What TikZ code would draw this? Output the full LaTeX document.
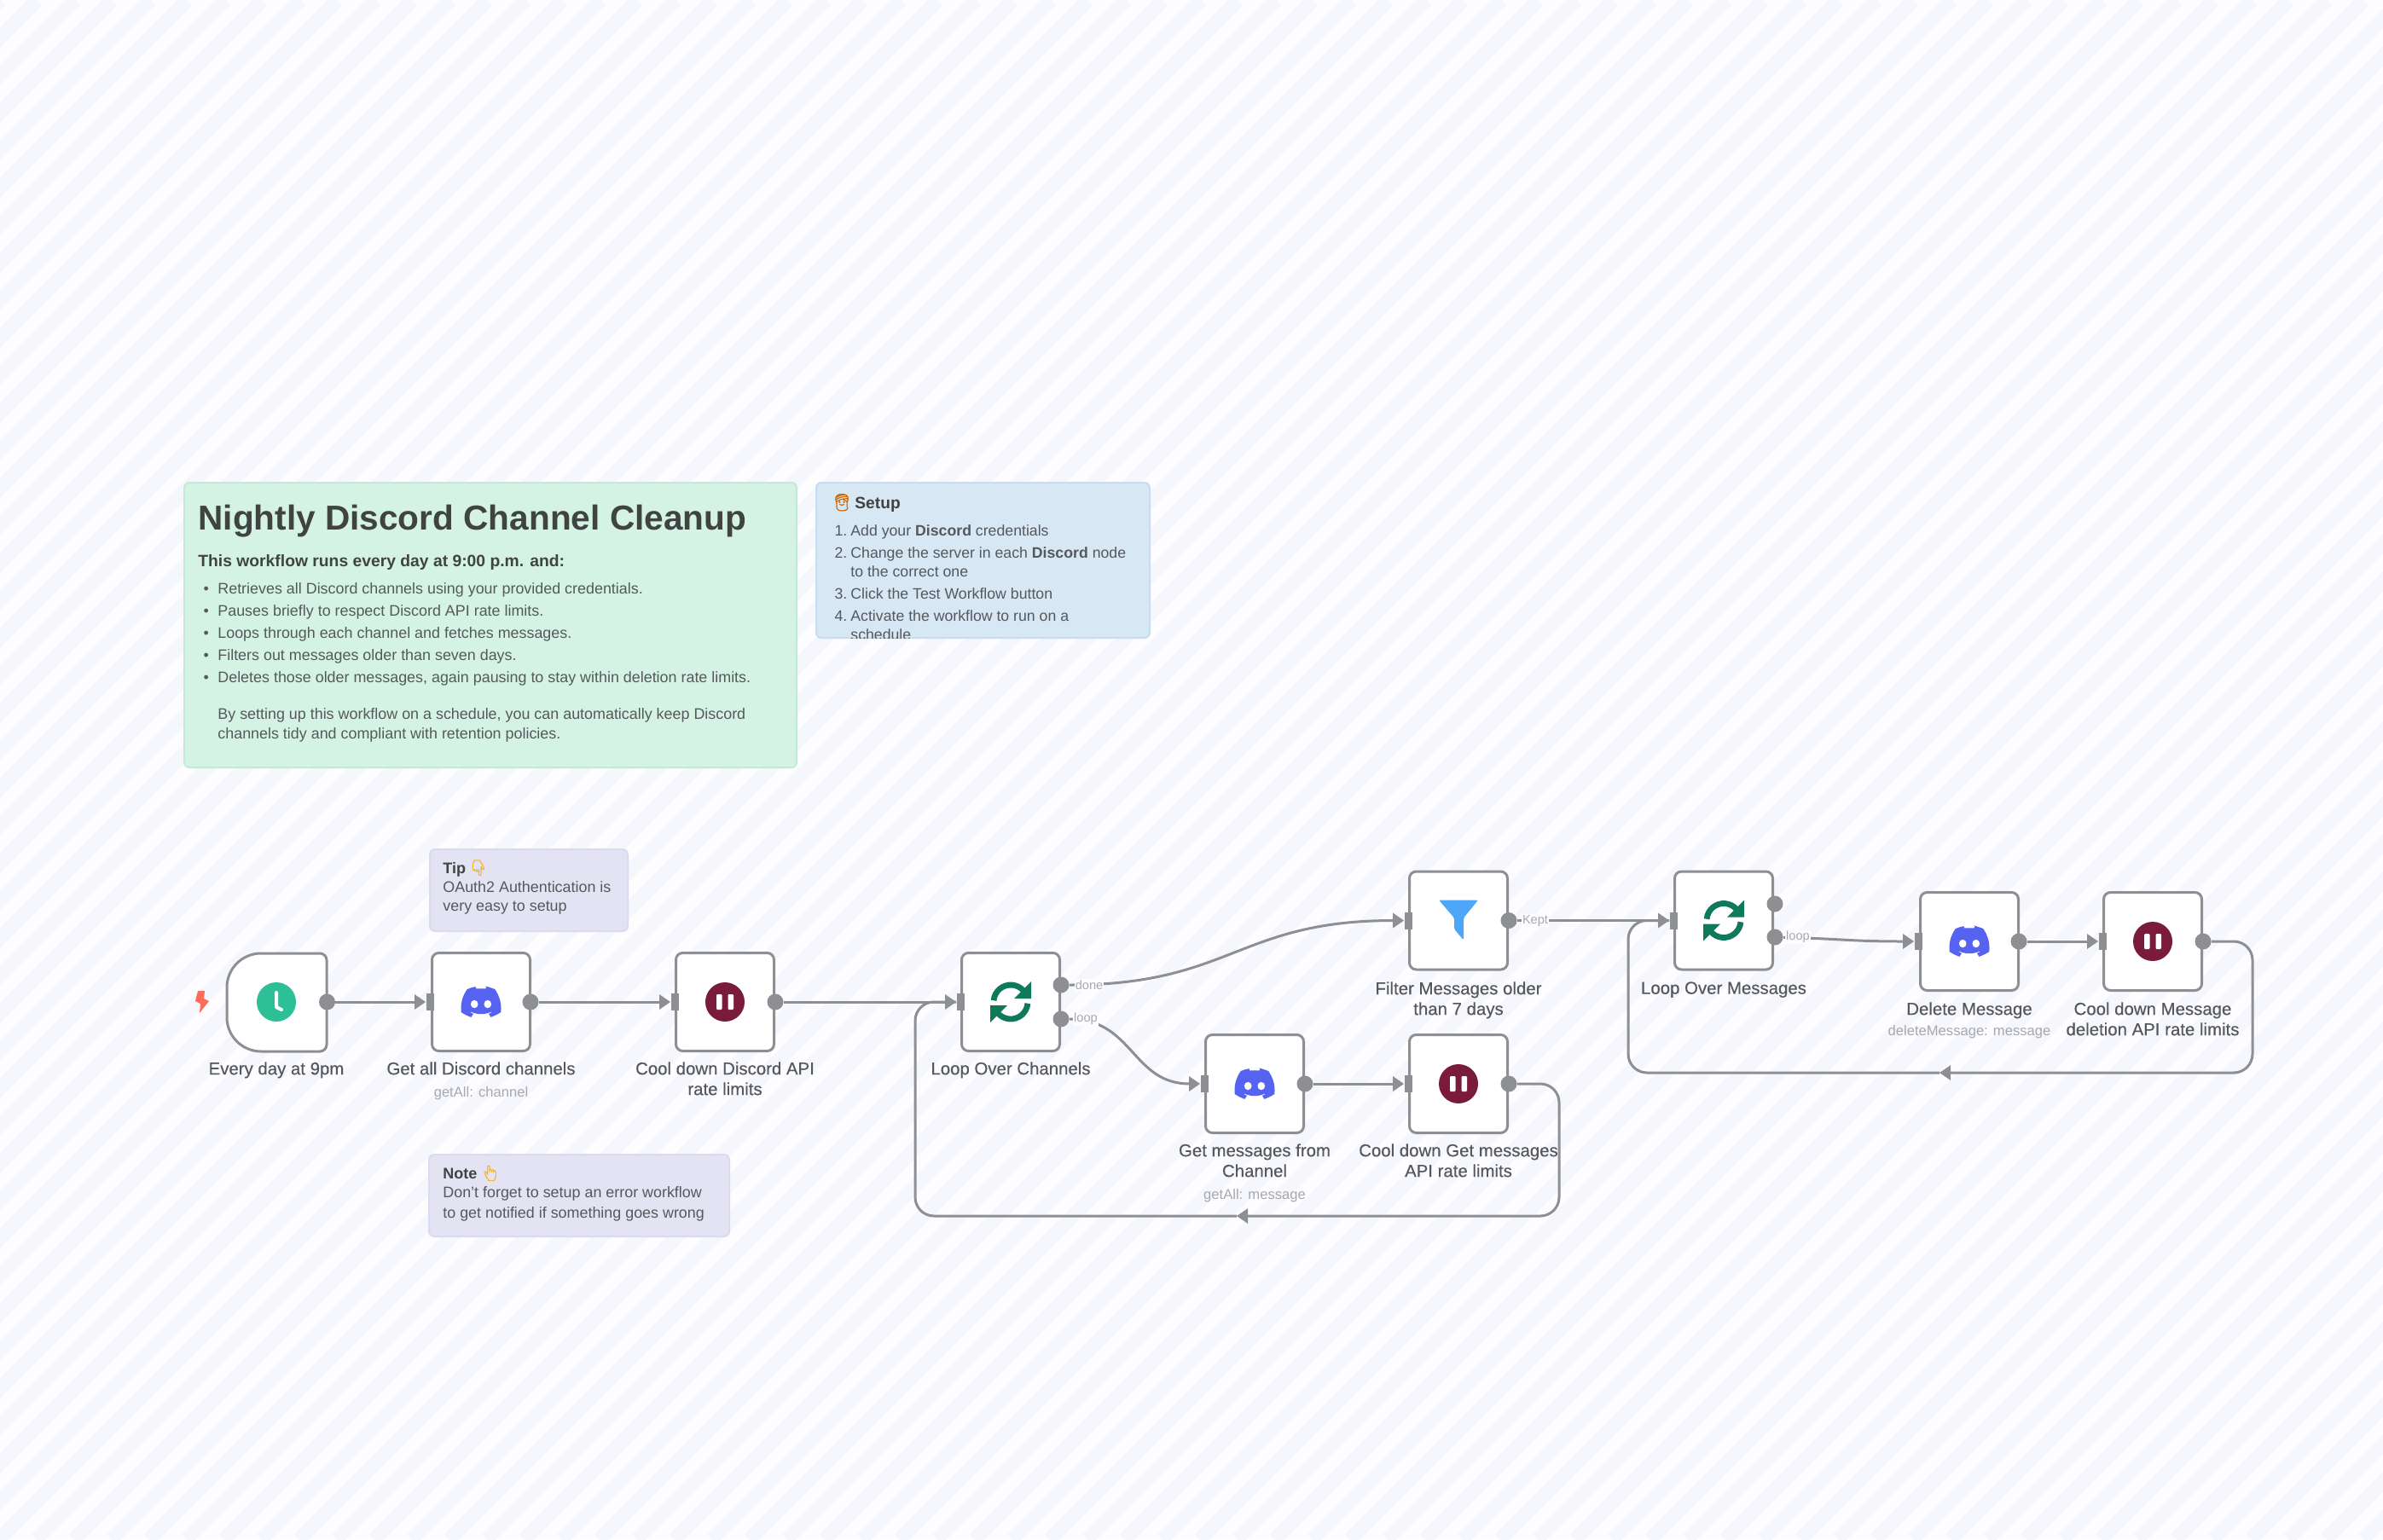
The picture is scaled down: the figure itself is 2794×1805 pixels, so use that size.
\documentclass[tikz,border=0pt]{standalone}
\usepackage{fontspec}
\setmainfont{Liberation Sans}
\newfontfamily\emojifont[FakeBold=1.5]{Noto Emoji}
\newfontfamily\medfont[FakeBold=0.35]{Liberation Sans}
\usetikzlibrary{arrows.meta}
\definecolor{bgbase}{HTML}{FDFDFF}
\definecolor{bgstripe}{HTML}{F6F7FC}
\definecolor{wirec}{HTML}{8E8F93}
\definecolor{labelc}{HTML}{55585C}
\definecolor{subc}{HTML}{A8A9AD}
\definecolor{titlec}{HTML}{3F4442}
\definecolor{greenf}{HTML}{D5F3E4}
\definecolor{greend}{HTML}{C2EBD5}
\definecolor{bluef}{HTML}{D8E7F4}
\definecolor{blued}{HTML}{C8DDF0}
\definecolor{purplef}{HTML}{E4E3F3}
\definecolor{purpled}{HTML}{DBDAEF}
\definecolor{clockc}{HTML}{2DBF96}
\definecolor{discordc}{HTML}{5563F0}
\definecolor{pausec}{HTML}{7A1B3B}
\definecolor{filterc}{HTML}{4DA6F8}
\definecolor{loopc}{HTML}{0F7A5B}
\definecolor{boltc}{HTML}{FF6D5A}
\definecolor{emojic}{HTML}{F0B429}
\tikzset{
  wfnode/.style={draw=wirec,line width=1.5pt,fill=white,rounded corners=4pt,minimum size=57.5pt,inner sep=0pt},
  outport/.style={circle,fill=wirec,minimum size=9.5pt,inner sep=0pt},
  inport/.style={rectangle,fill=wirec,minimum width=4.5pt,minimum height=10pt,inner sep=0pt},
  wire/.style={draw=wirec,line width=1.5pt},
  wiretip/.style={wire,-{Triangle[length=6.5pt,width=8.5pt]}},
  backwire/.style={wire,rounded corners=11pt},
  sticky/.style={rounded corners=3pt,line width=1pt,inner sep=0pt},
  nlabel/.style={font=\medfont\fontsize{10.2}{12}\selectfont,text=labelc,align=center,anchor=north,inner sep=0pt},
  nsub/.style={font=\fontsize{8.3}{10}\selectfont,text=subc,anchor=base,inner sep=0pt},
  elabel/.style={font=\fontsize{7.3}{8}\selectfont,text=subc,fill=bgbase,inner sep=0.6pt},
  stxt/.style={font=\fontsize{8.95}{11}\selectfont,text=labelc,anchor=base west,inner sep=0pt},
  setxt/.style={stxt,font=\fontsize{8.85}{11}\selectfont},
  discord/.pic={
    \fill[discordc] (20.3,4.4) .. controls +(-1.5,-0.7) and +(-3.2,-1.2) .. (15.4,2.9) -- (14.7,4.1)
      .. controls (12.9,3.9) and (11,3.9) .. (9.2,4.1) -- (8.6,2.9)
      .. controls (6.9,3.2) and (5.2,3.7) .. (3.7,4.4)
      .. controls (0.5,9) and (-0.3,13.6) .. (0.1,18.1)
      .. controls (1.9,19.4) and (4,20.4) .. (6.1,21.1)
      .. controls (6.7,20.5) and (7.1,19.8) .. (7.4,19.1)
      .. controls (6.8,18.9) and (6.2,18.6) .. (5.6,18.2) -- (6,17.9)
      .. controls (9.9,19.7) and (14.2,19.7) .. (18,17.9) -- (18.4,18.2)
      .. controls (17.8,18.6) and (17.2,18.9) .. (16.6,19.1)
      .. controls (16.9,19.8) and (17.3,20.5) .. (17.8,21.1)
      .. controls (19.9,20.4) and (22,19.4) .. (23.9,18.1)
      .. controls (24.4,12.9) and (23,8.4) .. (20.3,4.4) -- cycle;
    \fill[white] (8.02,13.3) ellipse[x radius=2.2,y radius=2.4];
    \fill[white] (15.98,13.3) ellipse[x radius=2.2,y radius=2.4];
  },
  pause/.pic={
    \fill[pausec] (0,0) circle[radius=23];
    \fill[white,rounded corners=0.6pt] (-10,-9) rectangle (-3.5,9);
    \fill[white,rounded corners=0.6pt] (3.5,-9) rectangle (10,9);
  },
  clock/.pic={
    \fill[clockc] (0,0) circle[radius=23];
    \draw[white,line width=2pt,line cap=round,line join=round] (0,-11) -- (0,6) -- (6,9);
  },
  syncicon/.pic={
    \draw[loopc,line width=3.4pt] (185:20) arc[start angle=185,end angle=318,radius=20];
    \fill[loopc] (24,-24) -- (24,-4) -- (4,-4) -- cycle;
    \draw[loopc,line width=3.4pt] (5:20) arc[start angle=5,end angle=138,radius=20];
    \fill[loopc] (-24,24) -- (-24,4) -- (-4,4) -- cycle;
  },
  funnel/.pic={
    \fill[filterc,rounded corners=0.8pt] (-23,-24) -- (23,-24) -- (6,-3) -- (6,23) -- (-5,10) -- (-5,-3) -- cycle;
  },
}
\begin{document}
\begin{tikzpicture}[x=0.5pt,y=-0.5pt]
\useasboundingbox (0,0) rectangle (2794,1805);
% background
\fill[bgbase] (0,0) rectangle (2794,1805);
\begin{scope}
  \clip (0,0) rectangle (2794,1805);
  \foreach \k in {0,...,105} {
    \draw[bgstripe,line width=8pt] ({\k*44},0) -- ({\k*44-1805},1805);
  }
\end{scope}

% stickies
\draw[sticky,fill=greenf,draw=greend] (216,566) rectangle (934,900);
\node[font=\bfseries\fontsize{20.3}{24}\selectfont,text=titlec,anchor=base west,inner sep=0pt] (gtitle) at (232,621) {Nightly Discord Channel Cleanup};
\node[stxt,font=\bfseries\fontsize{9.65}{11}\selectfont,text=titlec] (gsub) at (232,664) {This workflow runs every day at 9:00 p.m. and:};
\def\bul{\llap{•\hspace{5.2pt}}}
\node[stxt] (g1) at (255,696) {\bul Retrieves all Discord channels using your provided credentials.};
\node[stxt] (g2) at (255,722) {\bul Pauses briefly to respect Discord API rate limits.};
\node[stxt] (g3) at (255,748) {\bul Loops through each channel and fetches messages.};
\node[stxt] (g4) at (255,774) {\bul Filters out messages older than seven days.};
\node[stxt] (g5) at (255,800) {\bul Deletes those older messages, again pausing to stay within deletion rate limits.};
\node[stxt] (g6) at (255,843) {By setting up this workflow on a schedule, you can automatically keep Discord};
\node[stxt] (g7) at (255,866) {channels tidy and compliant with retention policies.};

\draw[sticky,fill=bluef,draw=blued] (957,566) rectangle (1348,748);
\node[stxt,font=\emojifont\fontsize{10}{11}\selectfont,text=orange!80!black] (semoji) at (974,596) {👳};
\node[stxt,font=\bfseries\fontsize{9.6}{11}\selectfont,text=titlec] (stitle) at (1002,596) {Setup};
\begin{scope}
  \clip[rounded corners=3pt] (957,566) rectangle (1348,748);
  \def\num#1{\llap{#1\hspace{2pt}}}
  \node[setxt] (s1) at (997,628) {\num{1.}Add your \textbf{Discord} credentials};
  \node[setxt] (s2) at (997,654) {\num{2.}Change the server in each \textbf{Discord} node};
  \node[setxt] (s2b) at (997,676) {to the correct one};
  \node[setxt] (s3) at (997,702) {\num{3.}Click the Test Workflow button};
  \node[setxt] (s4) at (997,728) {\num{4.}Activate the workflow to run on a};
  \node[setxt] (s4b) at (997,750) {schedule};
\end{scope}

\draw[sticky,fill=purplef,draw=purpled] (504,996) rectangle (736,1092);
\node[stxt,font=\bfseries\fontsize{9}{11}\selectfont,text=titlec] (ttitle) at (519,1024) {Tip};
\node[stxt,font=\emojifont\fontsize{9}{11}\selectfont,text=emojic] (temoji) at (549,1024) {👇};
\node[stxt] (t1) at (519,1046) {OAuth2 Authentication is};
\node[stxt] (t2) at (519,1068) {very easy to setup};

\draw[sticky,fill=purplef,draw=purpled] (503,1354) rectangle (855,1450);
\node[stxt,font=\bfseries\fontsize{9}{11}\selectfont,text=titlec] (ntitle) at (519,1382) {Note};
\node[stxt,font=\emojifont\fontsize{9}{11}\selectfont,text=emojic] (nemoji) at (563,1382) {👆};
\node[stxt] (n1t) at (519,1404) {Don't forget to setup an error workflow};
\node[stxt] (n2t) at (519,1428) {to get notified if something goes wrong};

% trigger
\fill[boltc] (237,1175) ++(-5,-13) -- ++(8,0) -- ++(-1,9) -- ++(6,3) -- ++(-11,14) -- ++(1,-11) -- ++(-6,-3) -- cycle;
\draw[draw=wirec,line width=1.5pt,fill=white]
  (306,1118) -- (375,1118) arc[start angle=270,end angle=360,radius=8]
  -- (383,1225) arc[start angle=0,end angle=90,radius=8]
  -- (306,1233) arc[start angle=90,end angle=180,radius=40]
  -- (266,1158) arc[start angle=180,end angle=270,radius=40] -- cycle;
\coordinate (n1) at (324,1175);
\pic at (n1) {clock};
\node[outport] (n1o) at (383.5,1175) {};

% nodes
\node[wfnode] (n2) at (564,1175) {};
\node[inport] (n2i) at (504,1175) {};
\node[outport] (n2o) at (622,1175) {};
\pic[scale=1.96] at (n2) [shift={(-12,-12)}] {discord};

\node[wfnode] (n3) at (850,1175) {};
\node[inport] (n3i) at (791,1175) {};
\node[outport] (n3o) at (909,1175) {};
\pic at (n3) {pause};

\node[wfnode] (n4) at (1185,1175) {};
\node[inport] (n4i) at (1126,1175) {};
\node[outport] (n4a) at (1244,1155) {};
\node[outport] (n4b) at (1244,1195) {};
\pic at (n4) {syncicon};

\node[wfnode] (n5) at (1710,1079.5) {};
\node[inport] (n5i) at (1651,1079.5) {};
\node[outport] (n5o) at (1769,1079.5) {};
\pic at (n5) {funnel};

\node[wfnode] (n6) at (1471,1271) {};
\node[inport] (n6i) at (1412,1271) {};
\node[outport] (n6o) at (1530,1271) {};
\pic[scale=1.96] at (n6) [shift={(-12,-12)}] {discord};

\node[wfnode] (n7) at (1710,1271) {};
\node[inport] (n7i) at (1651,1271) {};
\node[outport] (n7o) at (1769,1271) {};
\pic at (n7) {pause};

\node[wfnode] (n8) at (2021,1079.5) {};
\node[inport] (n8i) at (1962,1079.5) {};
\node[outport] (n8a) at (2081,1060) {};
\node[outport] (n8b) at (2081,1099) {};
\pic at (n8) {syncicon};

\node[wfnode] (n9) at (2309,1104) {};
\node[inport] (n9i) at (2249,1104) {};
\node[outport] (n9o) at (2367,1104) {};
\pic[scale=1.96] at (n9) [shift={(-12,-12)}] {discord};

\node[wfnode] (n10) at (2524,1104) {};
\node[inport] (n10i) at (2465,1104) {};
\node[outport] (n10o) at (2583,1104) {};
\pic at (n10) {pause};

% connectors
\draw[wiretip] (n1o) -- (n2i);
\draw[wiretip] (n2o) -- (n3i);
\draw[wiretip] (n3o) -- (n4i);
\draw[wiretip] (n4a) .. controls +(200,0) and +(-200,0) .. (n5i);
\draw[wiretip] (n4b) .. controls +(85,0) and +(-85,0) .. (n6i);
\draw[wiretip] (n6o) -- (n7i);
\draw[wiretip] (n5o) -- (n8i);
\draw[wiretip] (n8b) .. controls +(80,2) and +(-80,0) .. (n9i);
\draw[wiretip] (n9o) -- (n10i);

\coordinate (b1) at (1450,1426);
\coordinate (b2) at (2274,1258);
\draw[backwire,-{Triangle[length=6.5pt,width=8.5pt]}] (n7o) -- (1828,1271) -- (1828,1426) -- (b1);
\draw[backwire] (b1) -- (1073,1426) -- (1073,1175) -- (n4i);
\draw[backwire,-{Triangle[length=6.5pt,width=8.5pt]}] (n10o) -- (2641,1104) -- (2641,1258) -- (b2);
\draw[backwire] (b2) -- (1909,1258) -- (1909,1079.5) -- (n8i);

% edge labels
\node[elabel] (ldone) at (1277,1155) {done};
\node[elabel] (lloop) at (1273,1195) {loop};
\node[elabel] (lkept) at (1800,1079.5) {Kept};
\node[elabel] (lloop2) at (2108,1099) {loop};

% labels
\node[nlabel] (a1) at (324,1245) {Every day at 9pm};
\node[nlabel] (a2) at (564,1245) {Get all Discord channels};
\node[nsub] (a2s) at (564,1286) {getAll: channel};
\node[nlabel] (a3) at (850,1245) {Cool down Discord API\\rate limits};
\node[nlabel] (a4) at (1185,1245) {Loop Over Channels};
\node[nlabel] (a5) at (1710,1151) {Filter Messages older\\than 7 days};
\node[nlabel] (a6) at (1471,1341) {Get messages from\\Channel};
\node[nsub] (a6s) at (1471,1406) {getAll: message};
\node[nlabel] (a7) at (1710,1341) {Cool down Get messages\\API rate limits};
\node[nlabel] (a8) at (2021,1151) {Loop Over Messages};
\node[nlabel] (a9) at (2309,1175) {Delete Message};
\node[nsub] (a9s) at (2309,1214) {deleteMessage: message};
\node[nlabel] (a10) at (2524,1175) {Cool down Message\\deletion API rate limits};
\end{tikzpicture}
\end{document}
